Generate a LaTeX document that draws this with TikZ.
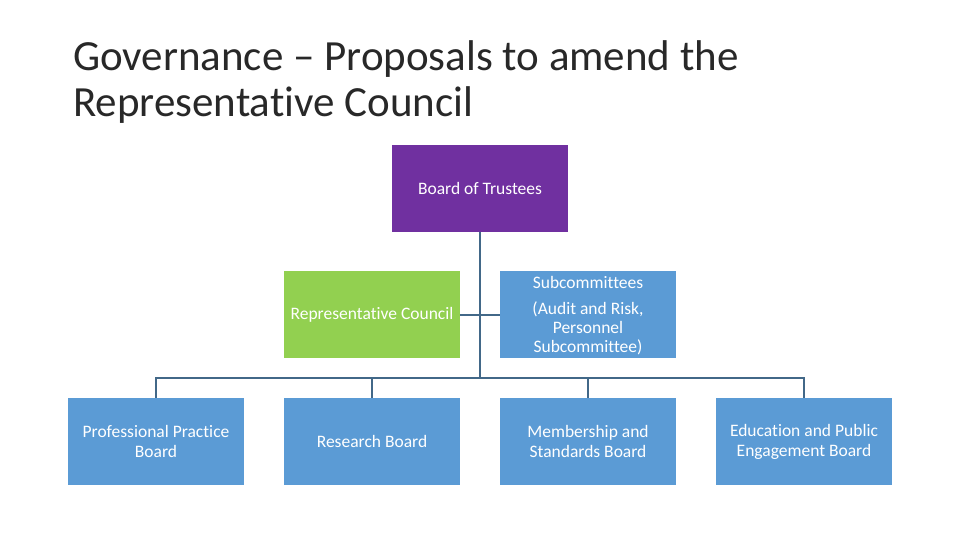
\documentclass[tikz,border=0pt]{standalone}
\usepackage{fontspec}
\setmainfont[Ligatures={NoCommon}]{Carlito}
\definecolor{purp}{RGB}{112,48,160}
\definecolor{grn}{RGB}{146,208,80}
\definecolor{blu}{RGB}{91,155,213}
\definecolor{conn}{RGB}{66,104,136}
\definecolor{titlec}{RGB}{40,40,40}
\begin{document}
\begin{tikzpicture}[x=1pt,y=-1pt,
  boxfont/.style={font=\fontsize{17.5}{20}\selectfont},
  box/.style={draw=none,minimum width=176pt,minimum height=87pt,inner sep=0pt,align=center,text=white,boxfont},
  link/.style={draw=conn,line width=2pt}]
\useasboundingbox[fill=white] (0,0) rectangle (960,540);
\node[anchor=base west,align=left,text=titlec,font=\fontsize{43}{46}\selectfont,inner sep=0pt] (title) at (73,117) {Governance -- Proposals to amend the\\Representative Council};
\node[box,fill=purp] (bot) at (480,188.5) {Board of Trustees};
\node[box,fill=grn] (rc) at (372,314.5) {Representative Council};
\node[box,fill=blu] (sub) at (588,314.5) {};
\node[align=center,text=white,boxfont,inner sep=0pt] (subt) at (588,282) {Subcommittees};
\node[align=center,text=white,font=\fontsize{17.5}{19}\selectfont,inner sep=0pt] (subd) at (588,328.5) {(Audit and Risk,\\Personnel\\Subcommittee)};
\node[box,fill=blu] (ppb) at (156,441.5) {Professional Practice\\Board};
\node[box,fill=blu] (rb) at (372,441.5) {Research Board};
\node[box,fill=blu] (msb) at (588,441.5) {Membership and\\Standards Board};
\node[box,fill=blu] (epb) at (804,441.5) {Education and Public\\Engagement Board};
\coordinate (hub) at (480,378);
\draw[link] (bot.south) -- (hub);
\draw[link] (rc.east) -- (sub.west);
\draw[link] (ppb.north) -- ++(0,-20) -| (epb.north);
\draw[link] (rb.north) -- ++(0,-20);
\draw[link] (msb.north) -- ++(0,-20);
\end{tikzpicture}
\end{document}
